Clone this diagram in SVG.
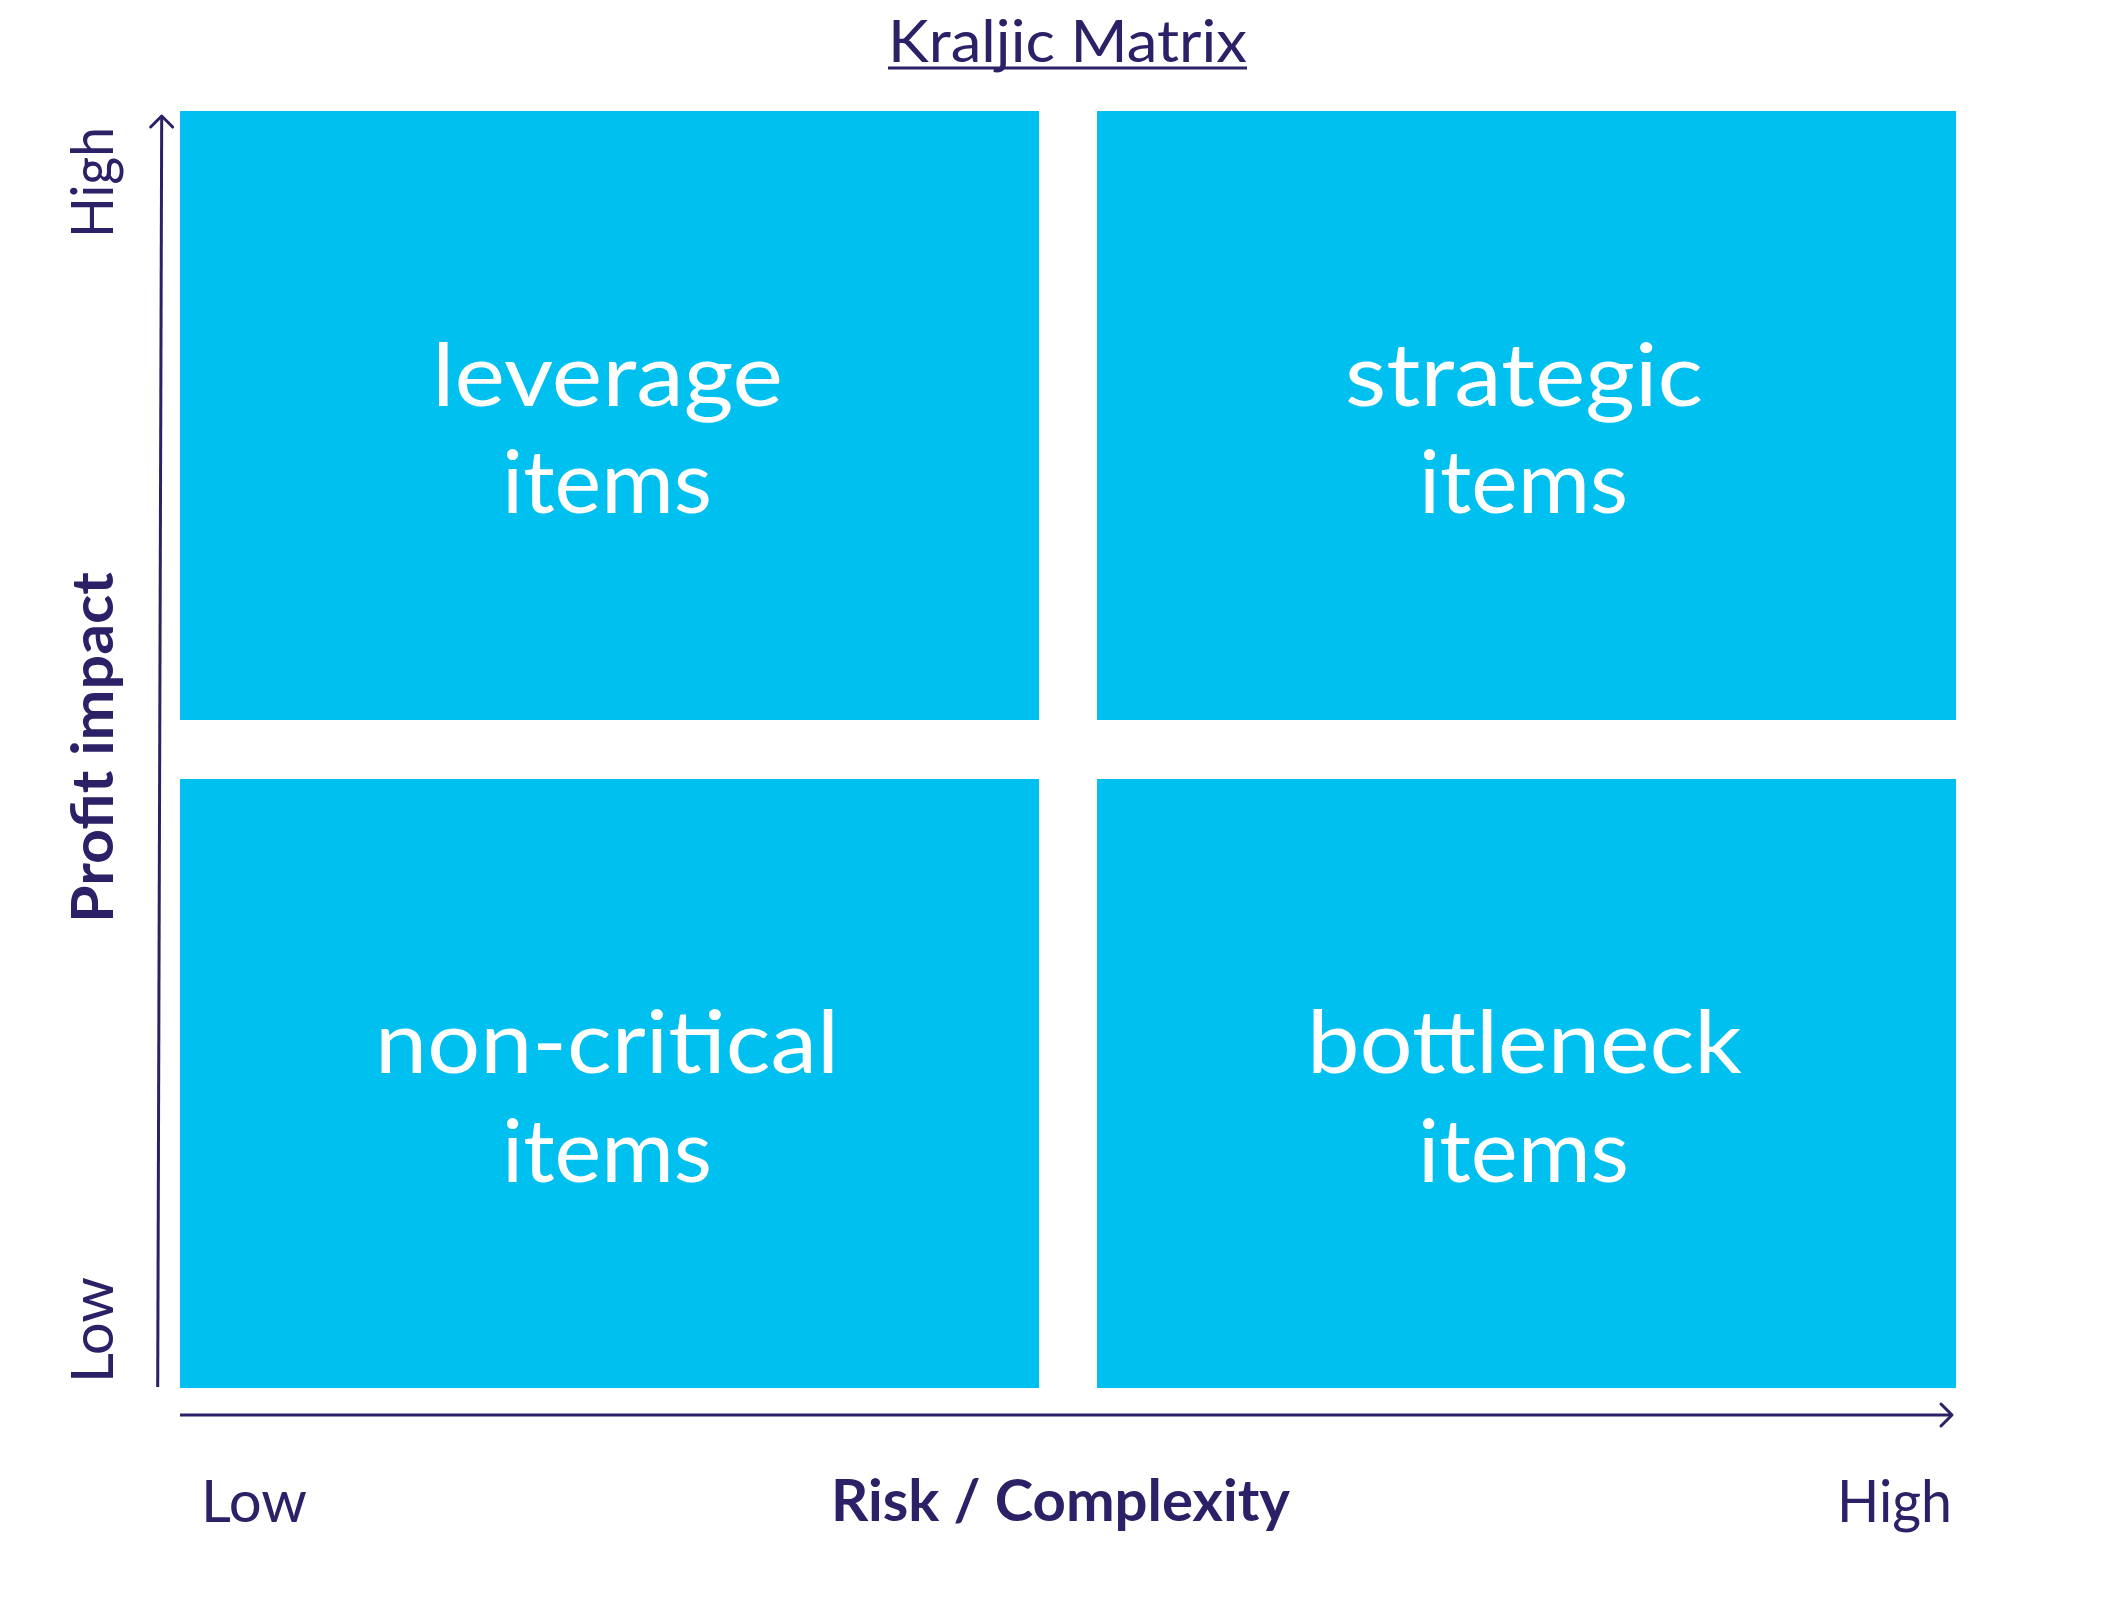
<svg xmlns="http://www.w3.org/2000/svg" width="2110" height="1610" viewBox="0 0 2110 1610">
<style>
.quad{fill:#00C0F0}
.ql{font-family:Lato,"Noto Sans","Liberation Sans",sans-serif;font-size:87px;fill:#FFFFFF;text-anchor:middle}
.ax{font-family:Lato,"Noto Sans","Liberation Sans",sans-serif;font-size:58px;fill:#2C2166}
.axb{font-family:Lato,"Noto Sans","Liberation Sans",sans-serif;font-size:58px;font-weight:bold;fill:#2C2166}
.axis{stroke:#2C2166;stroke-width:3;fill:none}
</style>
<defs>
<marker id="arr" markerUnits="userSpaceOnUse" markerWidth="30" markerHeight="30" viewBox="-15 -15 30 30" refX="0" refY="0" orient="auto">
<path d="M-11,-11 L0,0 L-11,11" fill="none" stroke="#2C2166" stroke-width="3" stroke-linecap="round" stroke-linejoin="round"/>
</marker>
</defs>
<rect width="2110" height="1610" fill="#FFFFFF"/>
<g id="title">
<text class="ax" x="888" y="62" textLength="359" lengthAdjust="spacingAndGlyphs">Kraljic Matrix</text>
<rect x="888" y="66.5" width="359" height="3" fill="#2C2166"/>
</g>
<g id="leverage">
<rect class="quad" x="180" y="111" width="859" height="609"/>
<text class="ql" x="607.5" y="406" textLength="351" lengthAdjust="spacingAndGlyphs">leverage</text>
<text class="ql" x="607" y="513" textLength="210" lengthAdjust="spacingAndGlyphs">items</text>
</g>
<g id="strategic">
<rect class="quad" x="1097" y="111" width="859" height="609"/>
<text class="ql" x="1524" y="406" textLength="358" lengthAdjust="spacingAndGlyphs">strategic</text>
<text class="ql" x="1523.5" y="513" textLength="209" lengthAdjust="spacingAndGlyphs">items</text>
</g>
<g id="noncritical">
<rect class="quad" x="180" y="779" width="859" height="609"/>
<text class="ql" x="607" y="1073" textLength="464" lengthAdjust="spacingAndGlyphs">non-critical</text>
<text class="ql" x="607" y="1182" textLength="210" lengthAdjust="spacingAndGlyphs">items</text>
</g>
<g id="bottleneck">
<rect class="quad" x="1097" y="779" width="859" height="609"/>
<text class="ql" x="1524.5" y="1073" textLength="435" lengthAdjust="spacingAndGlyphs">bottleneck</text>
<text class="ql" x="1523.5" y="1182" textLength="211" lengthAdjust="spacingAndGlyphs">items</text>
</g>
<g id="connectors">
<line class="axis" x1="157.7" y1="1387" x2="161.7" y2="116" marker-end="url(#arr)"/>
<line class="axis" x1="180" y1="1415" x2="1952" y2="1415" marker-end="url(#arr)"/>
</g>
<g id="y-axis-labels">
<text class="ax" transform="translate(113,238) rotate(-90)" textLength="111" lengthAdjust="spacingAndGlyphs">High</text>
<text class="axb" transform="translate(113,923) rotate(-90)" textLength="351" lengthAdjust="spacingAndGlyphs">Profit impact</text>
<text class="ax" transform="translate(113,1383) rotate(-90)" textLength="106" lengthAdjust="spacingAndGlyphs">Low</text>
</g>
<g id="x-axis-labels">
<text class="ax" x="201" y="1522" textLength="106" lengthAdjust="spacingAndGlyphs">Low</text>
<text class="axb" x="831" y="1521" textLength="459" lengthAdjust="spacingAndGlyphs">Risk / Complexity</text>
<text class="ax" x="1837" y="1522" textLength="115" lengthAdjust="spacingAndGlyphs">High</text>
</g>
</svg>
